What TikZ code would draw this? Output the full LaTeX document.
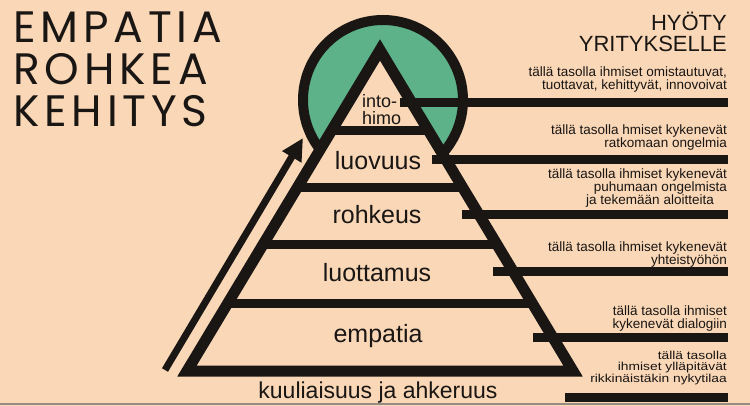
\documentclass[tikz,border=0pt]{standalone}
\usepackage{fontspec}
\setmainfont{Liberation Sans}
\newfontfamily\titlefont[LetterSpace=11]{Poppins}
\newfontfamily\squishfont[FakeStretch=1.2]{Liberation Sans}
\usetikzlibrary{arrows.meta,calc,positioning}
\definecolor{peach}{RGB}{250,215,182}
\definecolor{mint}{RGB}{94,178,137}
\definecolor{rulegray}{RGB}{150,140,130}
\definecolor{ink}{RGB}{25,22,20}

\begin{document}
\begin{tikzpicture}[x=1pt,y=-1pt,
  title/.style={font=\titlefont\fontsize{44}{44}\selectfont, anchor=base west, inner sep=0pt, text=ink},
  head/.style={font=\fontsize{22}{21.5}\selectfont, align=right, anchor=base east, inner sep=0pt, text=ink},
  benefit/.style={font=\fontsize{13.5}{13}\selectfont, align=right, anchor=base east, inner sep=0pt, text=ink},
  level/.style={font=\fontsize{25}{25}\selectfont, anchor=base, inner sep=0pt, text=ink},
  bar/.style={line width=9pt, ink},
  edge/.style={line width=11pt, ink, line join=miter}]
\useasboundingbox (0,0) rectangle (750,406);
\fill[peach] (0,0) rectangle (750,406);
\draw[rulegray, line width=2pt] (0,404) -- (750,404);

% title on the left
\node[title] (t1) at (13,43) {EMPATIA};
\node[title] (t2) at (13,85) {ROHKEA};
\node[title] (t3) at (13,127) {KEHITYS};

% circle behind the top of the pyramid
\node[circle, draw=ink, fill=mint, line width=10pt, inner sep=0pt, minimum size=160pt] (passionsun) at (383,100) {};

% pyramid
\coordinate (apex) at (380,50);
\coordinate (bl) at (187,371);
\coordinate (br) at (573,371);
\filldraw[edge, fill=peach] (apex) -- (bl) -- (br) -- cycle;
\foreach \t [count=\i] in {0.2523,0.4299,0.6044,0.7882} {
  \coordinate (lv\i) at ($(apex)!\t!(bl)$);
  \coordinate (rv\i) at ($(apex)!\t!(br)$);
  \draw[bar] (lv\i) -- (rv\i);
}

% arrow up the left side
\coordinate (climbstart) at (165,370);
\coordinate (climbend) at (303,138);
\draw[line width=7pt, ink, -{Triangle[width=21pt,length=22pt]}] (climbstart) -- (climbend);

% bars out to the right
\foreach \y/\xs [count=\i] in {103/400,160/432,215/462,272/493,337/533,397/565} {
  \coordinate (bs\i) at (\xs,\y);
  \coordinate (be\i) at (728,\y);
  \draw[bar] (bs\i) -- (be\i);
}

% level names (base = last line)
\node[font=\fontsize{18}{17}\selectfont, align=left, anchor=base west, inner sep=0pt, text=ink] (passion) at (362,125) {into-\\himo};
\node[level] (creativity) at (378,170) {luovuus};
\node[level] (courage) at (377,224) {rohkeus};
\node[level] (trust) at (377,281) {luottamus};
\node[level] (empathy) at (378,342) {empatia};
\node[level, font=\fontsize{23}{23}\selectfont] (obedience) at (378,398) {kuuliaisuus ja ahkeruus};

% benefit texts (base = last line)
\node[head] (gain) at (727,52) {HYÖTY\\YRITYKSELLE};
\node[benefit] (b1) at (727,90) {tällä tasolla ihmiset omistautuvat,\\tuottavat, kehittyvät, innovoivat};
\node[benefit] (b2) at (727,148) {tällä tasolla hmiset kykenevät\\ratkomaan ongelmia};
\node[benefit] (b3) at (727,205) {tällä tasolla ihmiset kykenevät\\puhumaan ongelmista\hspace*{12pt}\\ja tekemään aloitteita\hspace*{13pt}};
\node[benefit] (b4) at (727,265) {tällä tasolla ihmiset kykenevät\\yhteistyöhön};
\node[benefit] (b5) at (727,328) {tällä tasolla ihmiset\\kykenevät dialogiin};
\node[benefit, font=\squishfont\fontsize{11.5}{10.5}\selectfont] (b6) at (727,382) {tällä tasolla\\ihmiset ylläpitävät\\rikkinäistäkin nykytilaa};
\end{tikzpicture}
\end{document}
